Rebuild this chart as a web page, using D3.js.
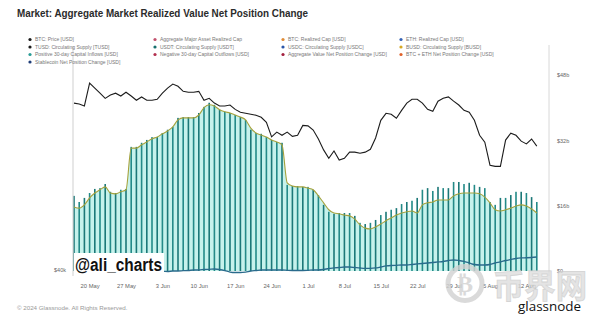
<!DOCTYPE html>
<html><head><meta charset="utf-8">
<script src="https://cdn.jsdelivr.net/npm/d3@7"></script>
<style>
html,body{margin:0;padding:0;background:#fff;}
svg{display:block;font-family:"Liberation Sans",Arial,sans-serif;}
</style>
</head><body>
<svg id="c" width="600" height="321"></svg>
<script>
// ---------- DATA ----------
const startDate = "2024-05-17";
// BTC price, thousands of USD (left, log axis)
const btcPriceK = [67.2,67.0,66.6,71.5,70.4,69.3,68.2,68.9,69.3,68.7,
  69.5,68.7,67.8,68.5,67.8,67.8,68.0,69.3,70.4,71.3,
  70.8,69.7,69.5,69.5,69.7,67.8,68.2,67.2,66.6,66.6,
  66.8,65.9,65.3,65.1,64.9,64.7,64.3,63.3,60.5,61.4,
  60.8,61.4,60.6,60.8,62.7,62.6,61.8,60.1,58.1,56.6,
  57.9,56.3,56.6,57.7,57.7,57.5,57.7,58.2,60.3,63.7,
  65.1,64.9,64.1,65.7,67.2,68.0,68.0,67.2,65.9,65.5,
  67.6,68.2,68.5,67.6,66.8,65.7,65.3,63.7,60.8,59.5,
  55.4,55.2,55.2,59.9,61.2,60.8,59.7,59.2,60.1,58.8];
// Positive 30-day capital inflows, billions USD (bars)
const inflowsB = [18.4,16.9,17.9,19.1,20.1,20.3,21.3,19.4,19.1,19.9,
  20.1,30.4,30.4,31.4,32.1,32.8,32.8,33.8,34.6,35.3,
  37.5,37.7,37.7,37.7,38.7,40.2,41.2,40.7,39.5,39.0,
  38.7,38.2,37.7,37.0,34.6,33.8,33.6,32.8,32.1,31.6,
  31.4,21.1,20.8,20.8,20.6,20.6,19.9,18.6,16.2,14.5,
  14.0,14.2,14.2,14.2,13.5,11.8,11.5,11.8,12.5,13.7,
  14.5,15.0,15.4,16.4,16.9,17.2,17.9,19.9,20.3,19.6,
  20.6,20.3,20.3,21.8,21.8,21.3,21.6,21.1,20.6,20.3,
  16.9,16.2,17.9,17.9,18.6,19.4,19.4,19.1,18.1,16.9];
// Aggregate value net position change, billions USD (area)
const aggregateNetB = [15.7,15.4,16.2,17.9,19.1,19.9,20.6,19.1,18.9,19.4,
  19.9,30.1,30.1,30.9,31.6,32.4,32.8,33.6,34.3,35.3,
  37.0,37.5,37.5,37.5,38.2,40.0,40.7,40.4,39.5,39.0,
  38.7,38.2,37.7,37.0,35.0,33.8,33.3,32.8,32.1,31.6,
  30.9,21.6,20.8,20.6,20.6,20.3,19.9,18.4,16.7,15.0,
  14.2,14.0,13.7,13.5,12.7,11.3,10.5,10.3,10.8,11.5,
  12.3,13.0,13.7,14.2,14.5,14.7,14.2,16.2,16.7,16.9,
  17.4,17.4,17.4,18.4,18.9,19.1,19.1,19.1,18.9,18.1,
  16.7,15.0,14.7,15.0,15.4,15.9,16.2,15.9,15.2,14.2];
// Stablecoin net position change, billions USD (line)
const stablecoinNetB = [-0.1,-0.1,0,0,-0.1,-0.1,0,0,-0.1,-0.1,
  -0.1,0,0,-0.1,-0.1,-0.1,-0.1,-0.1,-0.12,0,
  0,0.07,0.12,0.25,0.25,0.37,0.42,0.49,0.37,0.12,
  -0.25,-0.37,-0.37,-0.25,0,0.12,0.25,0.25,0.25,0.25,
  0.25,0.17,0.12,0.12,0.12,0.17,0.25,0.25,0.37,0.61,
  0.74,0.86,0.98,0.98,0.86,0.74,0.66,0.66,0.74,0.98,
  1.23,1.35,1.40,1.47,1.47,1.59,1.72,1.84,1.96,2.08,
  2.21,2.33,2.57,2.70,2.57,2.33,1.96,1.59,1.47,1.47,
  1.59,1.96,2.21,2.57,2.82,3.06,3.19,3.24,3.31,3.43];

const legendLabels = [
  ["BTC: Price [USD]","TUSD: Circulating Supply [TUSD]","Positive 30-day Capital Inflows [USD]","Stablecoin Net Position Change [USD]"],
  ["Aggregate Major Asset Realized Cap","USDT: Circulating Supply [USDT]","Negative 30-day Capital Outflows [USD]"],
  ["BTC: Realized Cap [USD]","USDC: Circulating Supply [USDC]","Aggregate Value Net Position Change [USD]"],
  ["ETH: Realized Cap [USD]","BUSD: Circulating Supply [BUSD]","BTC + ETH Net Position Change [USD]"]
];
const legendColors = [
  ["#1a1a1a","#1a1a1a","#2a9d96","#1f3d78"],
  ["#c2506c","#17706e","#b3304f"],
  ["#e08b35","#2a55a8","#a3203f"],
  ["#3562b5","#d6a823","#e0622a"]
];
const xTickDates = ["2024-05-20","2024-05-27","2024-06-03","2024-06-10","2024-06-17","2024-06-24","2024-07-01","2024-07-08","2024-07-15","2024-07-22","2024-07-29","2024-08-05","2024-08-12"];
const xTickLabels = ["20 May","27 May","3 Jun","10 Jun","17 Jun","24 Jun","1 Jul","8 Jul","15 Jul","22 Jul","29 Jul","5 Aug","12 Aug"];
const rightTicks = [0,16,32,48];
const rightTickLabels = ["$0","$16b","$32b","$48b"];
const leftTicks = [40];
const leftTickLabels = ["$40k"];

// ---------- CHART ----------
const svg = d3.select("#c");
const parse = d3.utcParse("%Y-%m-%d");
const d0 = parse(startDate);
const dates = d3.utcDay.range(d0, d3.utcDay.offset(d0, btcPriceK.length));

const x = d3.scaleUtc().domain([dates[0], dates[dates.length-1]]).range([74, 536.8]);
const yR = d3.scaleLinear().domain([0,48]).range([271,75]);
const yL = d3.scaleLog().domain([40,80]).range([270,47]);

// area under aggregate net line
const area = d3.area().x((d,i)=>x(dates[i])).y0(yR(0)).y1(d=>yR(d)).curve(d3.curveMonotoneX);
svg.append("path").datum(aggregateNetB).attr("d", area).attr("fill","#c6f2ec");

// bars
svg.append("g").selectAll("rect").data(inflowsB).join("rect")
  .attr("x",(d,i)=>x(dates[i])-0.8).attr("width",1.6)
  .attr("y",d=>yR(d)).attr("height",d=>yR(0)-yR(d))
  .attr("fill",(d,i)=> i%2 ? "#248a88" : "#1c7878");

// aggregate line
svg.append("path").datum(aggregateNetB)
  .attr("d", d3.line().x((d,i)=>x(dates[i])).y(d=>yR(d)).curve(d3.curveMonotoneX))
  .attr("fill","none").attr("stroke","#a6a23c").attr("stroke-width",1.1);

// stablecoin line
svg.append("path").datum(stablecoinNetB)
  .attr("d", d3.line().x((d,i)=>x(dates[i])).y(d=>yR(d)).curve(d3.curveMonotoneX))
  .attr("fill","none").attr("stroke","#2a6b8c").attr("stroke-width",1.3);

// price line
svg.append("path").datum(btcPriceK)
  .attr("d", d3.line().x((d,i)=>x(dates[i])).y(d=>yL(d)))
  .attr("fill","none").attr("stroke","#1c1c1c").attr("stroke-width",1.1);

// axis lines
svg.append("line").attr("x1",73).attr("x2",73).attr("y1",46).attr("y2",276).attr("stroke","#cfcfcf").attr("stroke-width",1);
svg.append("line").attr("x1",549).attr("x2",549).attr("y1",45).attr("y2",276).attr("stroke","#d8d8d8").attr("stroke-width",1);

// right axis
const rAx = svg.append("g").attr("transform","translate(549,0)")
  .call(d3.axisRight(yR).tickValues(rightTicks).tickFormat((d,i)=>rightTickLabels[i]).tickSize(0).tickPadding(8));
rAx.select(".domain").remove();
rAx.selectAll("text").attr("font-size",5.5).attr("fill","#666").attr("font-family","Liberation Sans, Arial, sans-serif");

// left axis
const lAx = svg.append("g").attr("transform","translate(73,0)")
  .call(d3.axisLeft(yL).tickValues(leftTicks).tickFormat((d,i)=>leftTickLabels[i]).tickSize(0).tickPadding(7));
lAx.select(".domain").remove();
lAx.selectAll("text").attr("font-size",5.5).attr("fill","#666").attr("font-family","Liberation Sans, Arial, sans-serif");

// x axis
const xAx = svg.append("g").attr("transform","translate(0,279)")
  .call(d3.axisBottom(x).tickValues(xTickDates.map(parse)).tickFormat((d,i)=>xTickLabels[i]).tickSize(0).tickPadding(5));
xAx.select(".domain").remove();
xAx.selectAll("text").attr("font-size",5.8).attr("fill","#666").attr("font-family","Liberation Sans, Arial, sans-serif");

// @ali_charts watermark box
svg.append("rect").attr("x",74).attr("y",253).attr("width",90).attr("height",25).attr("fill","#fff");
svg.append("text").attr("x",75).attr("y",270.5).text("@ali_charts")
  .attr("font-size",18).attr("font-weight","bold").attr("fill","#111")
  .attr("textLength",87).attr("lengthAdjust","spacingAndGlyphs");

// legend
const legX = [30,155,283,401];
const legY = [39.5,47,54.5,62];
legendLabels.forEach((col,ci)=>{
  col.forEach((lab,ri)=>{
    svg.append("circle").attr("cx",legX[ci]).attr("cy",legY[ri]).attr("r",1.6).attr("fill",legendColors[ci][ri]);
    svg.append("text").attr("x",legX[ci]+5).attr("y",legY[ri]).attr("dy","0.35em")
      .attr("font-size",5).attr("fill","#777").text(lab);
  });
});

// title
svg.append("text").attr("x",17).attr("y",16.5)
  .text("Market: Aggregate Market Realized Value Net Position Change")
  .attr("font-size",11.5).attr("font-weight",600).attr("fill","#2b2b2b")
  .attr("textLength",291).attr("lengthAdjust","spacingAndGlyphs");

// footer
svg.append("text").attr("x",17).attr("y",310).text("© 2024 Glassnode. All Rights Reserved.")
  .attr("font-size",6.2).attr("fill","#999");

// 币界网 watermark
const wm = svg.append("g").attr("opacity",0.8);
wm.append("circle").attr("cx",465).attr("cy",283.5).attr("r",17).attr("fill","none").attr("stroke","#d2d2d2").attr("stroke-width",5);
wm.append("text").attr("x",465).attr("y",292).attr("text-anchor","middle").text("₿")
  .attr("font-family","DejaVu Sans").attr("font-weight","bold").attr("font-size",24).attr("fill","#d2d2d2");
wm.append("text").attr("x",493).attr("y",298).text("币界网")
  .attr("font-family","Noto Sans CJK SC").attr("font-weight","bold").attr("font-size",33)
  .attr("fill","#dedede").attr("stroke","#cacaca").attr("stroke-width",0.8)
  .attr("textLength",94).attr("lengthAdjust","spacingAndGlyphs");

// glassnode logo text
svg.append("text").attr("x",518).attr("y",310.5).text("glassnode")
  .attr("font-size",12.5).attr("fill","#111").attr("font-family","Open Sans, Liberation Sans, sans-serif")
  .attr("textLength",63).attr("lengthAdjust","spacingAndGlyphs");
</script>
</body></html>
